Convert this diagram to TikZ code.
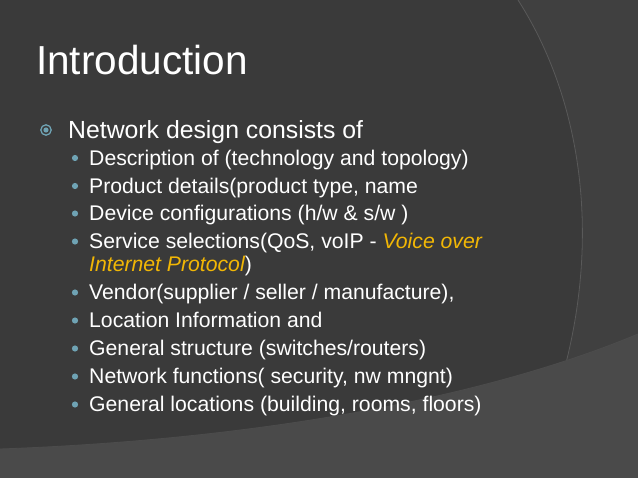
\documentclass[tikz,border=0pt]{standalone}
\usepackage{fontspec}
\setmainfont{Liberation Sans}
\begin{document}
\begin{tikzpicture}[x=1pt,y=-1pt,
  txt/.style={anchor=base west,inner sep=0pt,text=white,font=\fontsize{21.2}{24}\selectfont},
  ]
\definecolor{bulc}{HTML}{6FA3B4}
\definecolor{bgA}{HTML}{3A3A3A}
\definecolor{bgB}{HTML}{4A4A4A}
\definecolor{bgC}{HTML}{404040}
\definecolor{ylw}{HTML}{F2B705}
\useasboundingbox (0,0) rectangle (638,478);
\fill[bgA] (0,0) rectangle (638,478);
\fill[bgC] (518,0) .. controls (595,120) and (610,300) .. (524,478) -- (638,478) -- (638,0) -- cycle;
\draw[gray!70!black,line width=0.8pt] (518,0) .. controls (595,120) and (610,300) .. (524,478);
\fill[bgB] (0,449) .. controls (250,440) and (480,400) .. (638,334) -- (638,478) -- (0,478) -- cycle;
\draw[gray!60!black,line width=0.8pt] (0,449) .. controls (250,440) and (480,400) .. (638,334);
\node[anchor=base west,inner sep=0pt,text=white,font=\fontsize{40.5}{44}\selectfont] (title) at (36,75) {Introduction};
\draw[bulc,line width=1.3pt] (46,130) circle (5.2);
\fill[bulc] (46,130) circle (2.6);
\node[txt,font=\fontsize{24.8}{28}\selectfont] (main) at (68,138.5) {Network design consists of};
\foreach \y/\t [count=\i] in {165.5/{Description of (technology and topology)},
  193.5/{Product details(product type, name},
  221/{Device configurations (h/w \& s/w )},
  249/{Service selections(QoS, voIP - \textcolor{ylw}{\itshape Voice over}},
  300/{Vendor(supplier / seller / manufacture),},
  328/{Location Information and},
  356/{General structure (switches/routers)},
  384/{Network functions( security, nw mngnt)},
  412/{General locations (building, rooms, floors)}}{
  \fill[bulc] (75,\y-7.5) circle (3.1);
  \node[txt] (s\i) at (89,\y) {\t};
}
\node[txt] (wrap) at (89,272) {\textcolor{ylw}{\itshape Internet Protocol})};
\end{tikzpicture}
\end{document}
